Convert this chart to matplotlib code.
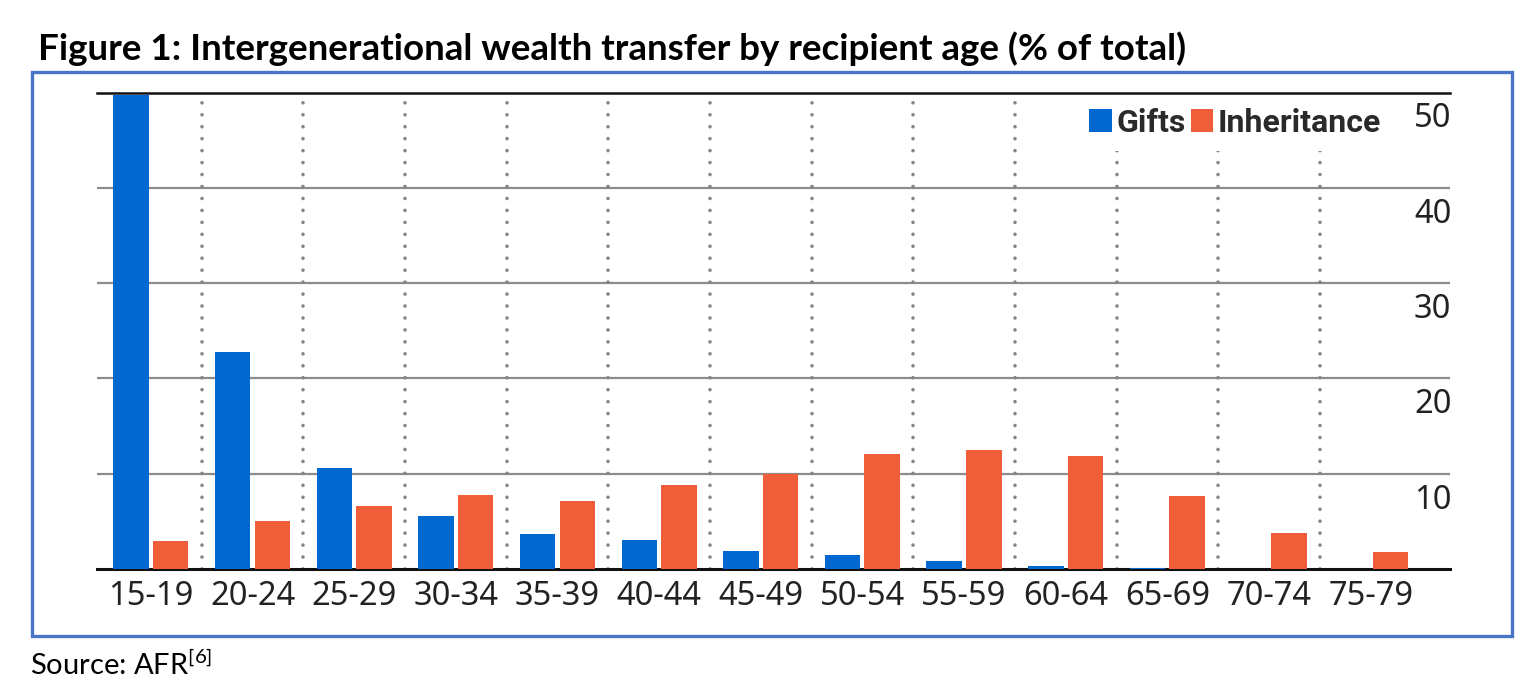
import matplotlib.pyplot as plt
import numpy as np
from matplotlib.patches import Rectangle

ages = ["15-19", "20-24", "25-29", "30-34", "35-39", "40-44", "45-49",
        "50-54", "55-59", "60-64", "65-69", "70-74", "75-79"]
gifts = [49.7, 22.8, 10.6, 5.6, 3.7, 3.0, 1.9, 1.45, 0.8, 0.35, 0.08, 0.0, 0.0]
inheritance = [2.9, 5.0, 6.6, 7.8, 7.1, 8.8, 10.0, 12.1, 12.5, 11.9, 7.7, 3.75, 1.75]
yticks = [10, 20, 30, 40, 50]

blue = "#0068CE"
orange = "#EF5E38"
txt = "#222222"

plt.rcParams["mathtext.fontset"] = "custom"
plt.rcParams["mathtext.rm"] = "Lato"

fig = plt.figure(figsize=(15.36, 6.97), dpi=100)
ax = fig.add_axes([97 / 1536, 1 - 569 / 697, (1450 - 97) / 1536, (569 - 92.5) / 697])

x = np.arange(len(ages))
w = 0.35
ax.bar(x - 0.195, gifts, w, color=blue, label="Gifts", zorder=3)
ax.bar(x + 0.195, inheritance, w, color=orange, label="Inheritance", zorder=3)

ax.set_xlim(-0.53, 12.78)
ax.set_ylim(0, 50)

# grid
for v in yticks[:-1]:
    ax.axhline(v, color="#8c8c8c", lw=1.6, zorder=1)
for b in np.arange(0.5, 12, 1):
    ax.axvline(b, color="#858585", lw=2.6, linestyle=(0, (0.01, 3.3)),
               dash_capstyle="round", zorder=1)

for s in ["left", "right"]:
    ax.spines[s].set_visible(False)
ax.spines["top"].set_linewidth(1.8)
ax.spines["bottom"].set_linewidth(2.2)
ax.spines["top"].set_color("#111111")
ax.spines["bottom"].set_color("#111111")

ax.set_yticks([])
ax.set_xticks(x)
ax.set_xticklabels(ages, fontsize=23.5, color=txt, family="Noto Sans")
ax.tick_params(axis="x", length=0, pad=8)

for v in yticks:
    ax.annotate(str(v), xy=(1, v), xycoords=("axes fraction", "data"),
                xytext=(1, -19), textcoords="offset points", ha="right",
                va="center", fontsize=23.5, color=txt, family="Noto Sans")

leg = ax.legend(loc="upper right", bbox_to_anchor=(1394 / 1536, 1 - 95 / 697),
                bbox_transform=fig.transFigure,
                ncol=2, frameon=True, fancybox=False, framealpha=1,
                edgecolor="none", facecolor="white", handlelength=0.7,
                handleheight=0.7, handletextpad=0.15, columnspacing=0.15,
                borderpad=0.4, borderaxespad=0,
                prop={"family": "Roboto", "weight": "bold", "size": 23})
for t in leg.get_texts():
    t.set_color("#2a2a2a")
leg.set_zorder(5)

# blue frame
fig.patches.append(Rectangle((32 / 1536, 1 - 636 / 697), (1512 - 32) / 1536,
                             (636 - 72) / 697, transform=fig.transFigure,
                             fill=False, edgecolor="#4A74C8", lw=2.4))

fig.text(38 / 1536, 1 - 49 / 697,
         "Figure 1: Intergenerational wealth transfer by recipient age (% of total)",
         ha="left", va="center", fontsize=26.5, weight="bold", family="Lato",
         color="black")
fig.text(30 / 1536, 1 - 664 / 697, r"Source: AFR$^{[6]}$", ha="left",
         va="center", fontsize=21, family="Lato", color="black")

fig.savefig("out.png", dpi=100)
